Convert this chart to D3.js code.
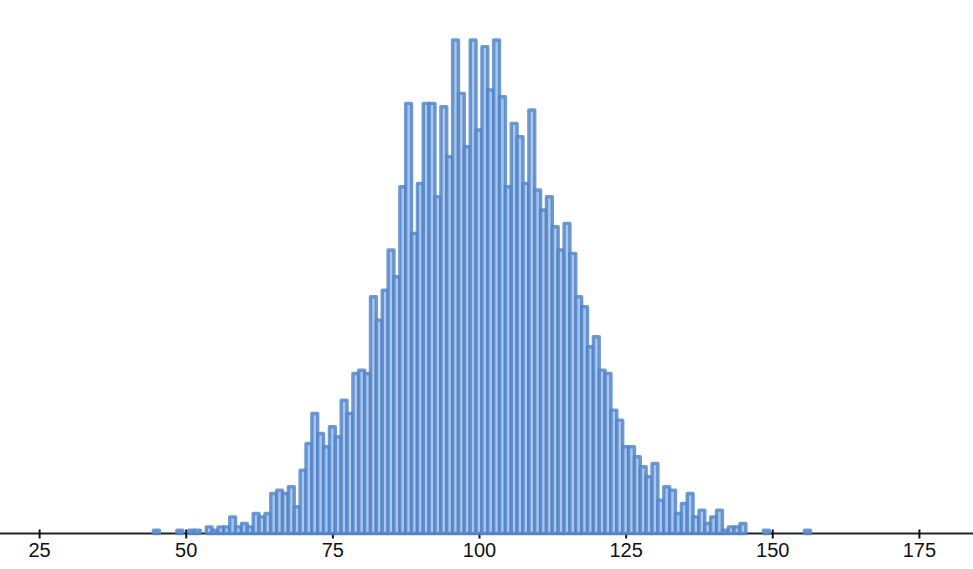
<!DOCTYPE html>
<html>
<head>
<meta charset="utf-8">
<script src="https://cdn.jsdelivr.net/npm/d3@7"></script>
<style>
  body { margin: 0; background: #fff; }
  svg { display: block; }
</style>
</head>
<body>
<svg width="973" height="569"></svg>
<script>
// bin centres (integer values) and how many samples fell in each
const binValues = [
   45,  46,  47,  48,  49,  50,  51,  52,  53,  54,  55,  56,  57,  58,  59,  60,
   61,  62,  63,  64,  65,  66,  67,  68,  69,  70,  71,  72,  73,  74,  75,  76,
   77,  78,  79,  80,  81,  82,  83,  84,  85,  86,  87,  88,  89,  90,  91,  92,
   93,  94,  95,  96,  97,  98,  99, 100, 101, 102, 103, 104, 105, 106, 107, 108,
  109, 110, 111, 112, 113, 114, 115, 116, 117, 118, 119, 120, 121, 122, 123, 124,
  125, 126, 127, 128, 129, 130, 131, 132, 133, 134, 135, 136, 137, 138, 139, 140,
  141, 142, 143, 144, 145, 146, 147, 148, 149, 150, 151, 152, 153, 154, 155, 156
];
const binCounts = [
    1,   0,   0,   0,   1,   0,   1,   1,   0,   2,   1,   2,   2,   5,   2,   3,
    2,   6,   5,   6,  12,  13,  12,  14,   8,  19,  27,  36,  30,  26,  32,  29,
   40,  36,  48,  49,  48,  71,  64,  73,  85,  77, 104, 129,  90, 105, 129, 129,
  101, 128, 113, 148, 132, 116, 148, 121, 146, 133, 148, 131, 104, 123, 119, 105,
  127, 103,  97, 101,  92,  85,  93,  84,  71,  68,  56,  59,  49,  48,  37,  34,
   26,  26,  23,  20,  17,  21,  10,  14,  13,   6,   9,  12,   5,   7,   3,   5,
    7,   1,   2,   2,   3,   0,   0,   0,   1,   0,   0,   0,   0,   0,   0,   1
];
const tickValues = [25, 50, 75, 100, 125, 150, 175];

const svg = d3.select('svg');
const width = +svg.attr('width');
const height = +svg.attr('height');

const baseY = 533.5;

const xScale = d3.scaleLinear()
  .domain([25, 175])
  .range([39.1, 918.9]);

const yScale = d3.scaleLinear()
  .domain([0, d3.max(binCounts)])
  .range([baseY, 40]);

const data = binValues.map((v, i) => ({ value: v, count: binCounts[i] }))
  .filter(d => d.count > 0);

// axis
const xAxis = d3.axisBottom(xScale)
  .tickValues(tickValues)
  .tickSizeOuter(0)
  .tickFormat(d3.format('d'));

const axisG = svg.append('g')
  .attr('transform', `translate(0,${baseY})`)
  .call(xAxis);

axisG.select('.domain').remove();
axisG.insert('line', ':first-child')
  .attr('x1', 0)
  .attr('x2', width)
  .attr('stroke', '#222')
  .attr('stroke-width', 2);

axisG.selectAll('.tick line')
  .attr('y1', -4)
  .attr('y2', 5)
  .attr('stroke', '#111')
  .attr('stroke-width', 2);

axisG.selectAll('.tick text')
  .attr('y', 9)
  .attr('dy', '0.71em')
  .attr('fill', '#111')
  .style('font-family', '"Liberation Sans", Arial, sans-serif')
  .style('font-size', '20px');

// bars
svg.append('g')
  .selectAll('rect')
  .data(data)
  .join('rect')
  .attr('x', d => xScale(d.value - 0.5))
  .attr('width', d => xScale(d.value + 0.5) - xScale(d.value - 0.5))
  .attr('y', d => yScale(d.count))
  .attr('height', d => yScale(0) - yScale(d.count))
  .attr('fill', '#abc6ea')
  .attr('stroke', '#4d82c8')
  .attr('stroke-opacity', 0.8)
  .attr('stroke-width', 3.4)
  .attr('stroke-linejoin', 'round');
</script>
</body>
</html>
